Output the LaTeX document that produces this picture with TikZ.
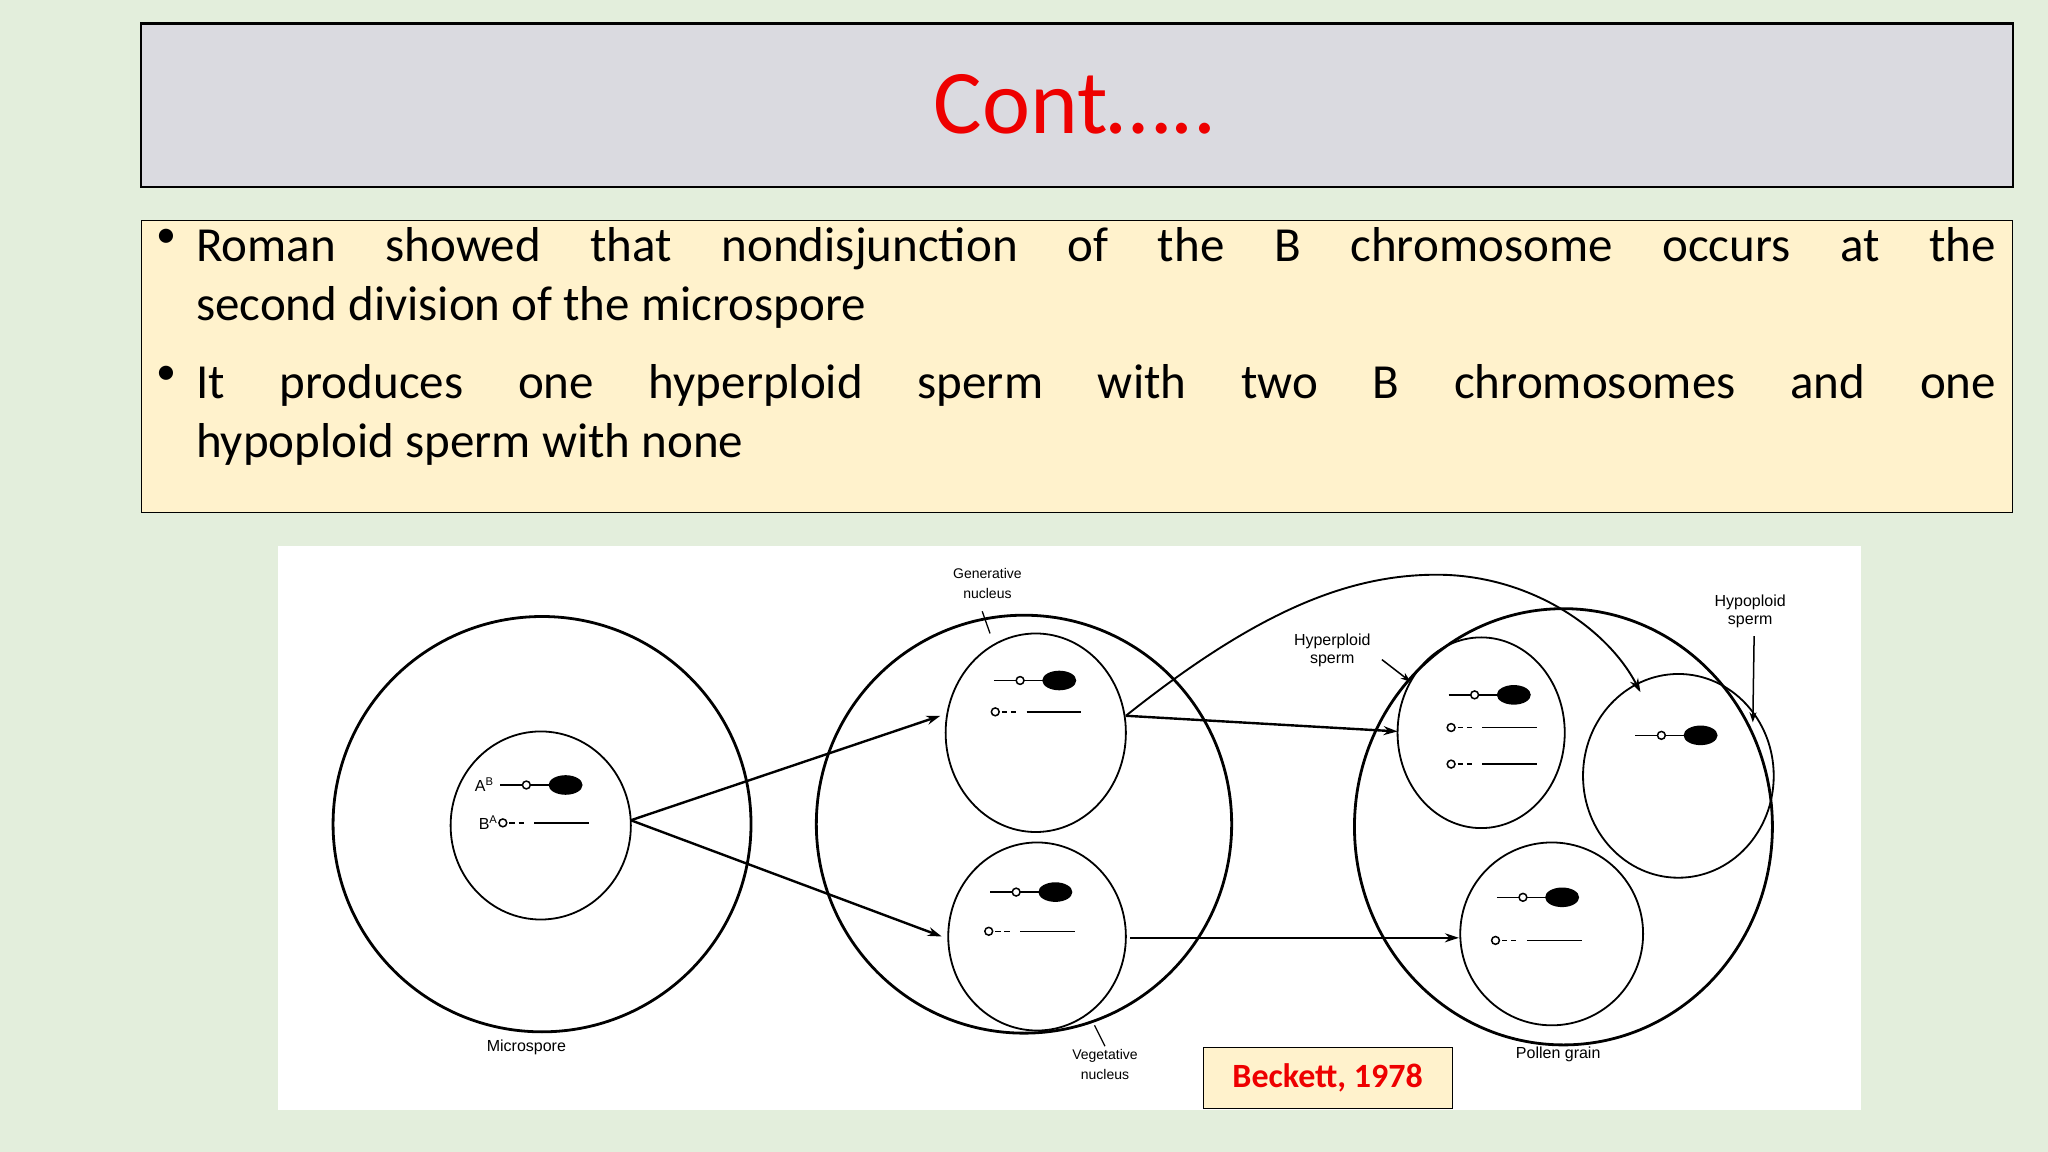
\documentclass[tikz,border=0pt]{standalone}
\usepackage{fontspec}
\setmainfont{Carlito}
\newfontfamily\lblfont{Liberation Sans}
\usetikzlibrary{arrows.meta}
\definecolor{bg}{HTML}{E3EEDC}
\definecolor{titlefill}{HTML}{DADAE0}
\definecolor{cream}{HTML}{FFF2CC}
\definecolor{redtxt}{HTML}{EE0000}
\tikzset{
  cell/.style={line width=2.8pt},
  nuc/.style={line width=1.8pt},
  conn/.style={line width=2.4pt,-{Stealth[length=14pt,width=9pt]}},
  ptr/.style={line width=1.5pt,-{Stealth[length=10pt,width=7pt]}},
  lbl/.style={font=\lblfont\fontsize{16}{18}\selectfont,align=center,inner sep=0pt},
  btxt/.style={anchor=north west,inner sep=0pt,text width=1800pt,align=justify,font=\fontsize{49}{59}\selectfont},
  bdot/.style={anchor=north west,inner sep=0pt,font=\fontsize{40}{59}\selectfont},
  pics/chromfull/.style={code={
    \draw[line width=1.5pt] (-20,0)--(-3,0);
    \draw[line width=1.5pt] (0,0) circle[radius=3];
    \draw[line width=1.5pt] (3,0)--(18,0);
    \fill (30,0) ellipse[x radius=13, y radius=7.5];}},
  pics/chromB/.style={code={
    \draw[line width=1.5pt] (0,0) circle[radius=3];
    \draw[line width=1.5pt] (5,0)--(9,0) (12,0)--(16,0) (24,0)--(66,0);}}
}
\begin{document}
\begin{tikzpicture}[x=1.306pt,y=-1.306pt]
\fill[bg] (0,0) rectangle (1568,882);
\useasboundingbox (0,0) rectangle (1568,882);
% title
\draw[fill=titlefill,line width=2.5pt] (108,18) rectangle (1541,143);
\node (title) at (823,80) {\fontsize{91}{100}\selectfont\color{redtxt}Cont…..};
% bullets
\draw[fill=cream,line width=1pt] (108,169) rectangle (1541,392);
\node[btxt] (b1) at (150,174)
 {Roman showed that nondisjunction of the B chromosome occurs at the\linebreak second division of the microspore};
\node[bdot] at (120,175) {•};
\node[btxt] (b2) at (150,279)
 {It produces one hyperploid sperm with two B chromosomes and one\linebreak hypoploid sperm with none};
\node[bdot] at (120,280) {•};
% image area
\fill[white] (213,418) rectangle (1425,850);
% microspore
\draw[cell] (415,631) ellipse[x radius=160, y radius=159];
\draw[nuc] (414,632) ellipse[x radius=69, y radius=72];
\node[lbl,anchor=east] at (378,601) {A\textsuperscript{B}};
\node[lbl,anchor=east] at (381,630) {B\textsuperscript{A}};
\pic at (403,601) {chromfull};
\pic at (385,630) {chromB};
\coordinate (m) at (483,628);
\node[lbl] (lmic) at (403,802) {Microspore};
% second cell
\draw[cell] (784,631) ellipse[x radius=159, y radius=160];
\draw[nuc] (793,561) ellipse[x radius=69, y radius=76];
\draw[nuc] (794,717) ellipse[x radius=68, y radius=72];
\pic at (781,521) {chromfull};
\pic at (762,545) {chromB};
\pic at (778,683) {chromfull};
\pic at (757,713) {chromB};
\coordinate (g) at (720,548);
\coordinate (v) at (721,717);
\node[lbl,font=\lblfont\fontsize{14}{20}\selectfont] (lgen) at (756,447) {Generative\\nucleus};
\node[lbl,font=\lblfont\fontsize{14}{20}\selectfont] (lveg) at (846,815) {Vegetative\\nucleus};
\draw[line width=1.3pt] (752,468) -- (758,485);
\draw[line width=1.3pt] (838,785) -- (846,801);
% pollen grain
\draw[cell] (1197,633) ellipse[x radius=160, y radius=167];
\draw[nuc] (1134,561) ellipse[x radius=64, y radius=73];
\draw[nuc] (1285,594) ellipse[x radius=73, y radius=78];
\draw[nuc] (1188,715) ellipse[x radius=70, y radius=70];
\pic at (1129,532) {chromfull};
\pic at (1111,557) {chromB};
\pic at (1111,585) {chromB};
\pic at (1272,563) {chromfull};
\pic at (1166,687) {chromfull};
\pic at (1145,720) {chromB};
\coordinate (hy) at (1070,560);
\coordinate (bs) at (1117,718);
\coordinate (ho) at (1256,530);
\coordinate (g2) at (862,548);
\coordinate (v2) at (865,718);
\node[lbl] (lhyp) at (1020,498) {Hyperploid\\sperm};
\node[lbl] (lhypo) at (1340,468) {Hypoploid\\sperm};
\node[lbl] (lpol) at (1193,807) {Pollen grain};
\draw[ptr] (1058,505) -- (1080,522);
\draw[ptr] (1343,487) -- (1342,553);
% connectors
\draw[conn] (m) -- (g);
\draw[conn] (m) -- (v);
\draw[conn] (g2) -- (hy);
\draw[conn] (v2) -- (bs);
\draw[conn,line width=1.9pt] (g2) .. controls (960,470) and (1030,440) .. (1100,440) .. controls (1170,440) and (1230,480) .. (ho);
% citation
\node[draw,fill=cream,line width=1pt,minimum width=249pt,minimum height=61pt,font=\bfseries\fontsize{34}{40}\selectfont,text=redtxt] (cite) at (1016.5,825.5) {Beckett, 1978};
\end{tikzpicture}
\end{document}
